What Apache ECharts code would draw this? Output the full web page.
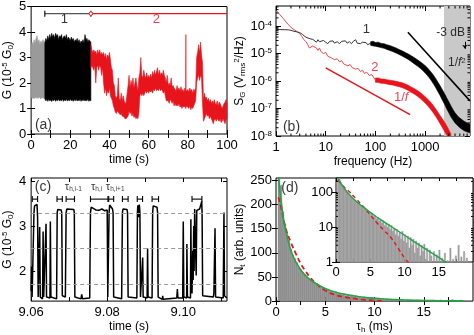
<!DOCTYPE html>
<html>
<head>
<meta charset="utf-8">
<script src="https://cdn.jsdelivr.net/npm/echarts@6/dist/echarts.min.js"></script>
<style>
html,body{margin:0;padding:0;background:#fff}
#c{width:474px;height:335px}
</style>
</head>
<body>
<div id="c"></div>
<script>
// ===== (a) conductance vs time: envelope samples [time (s), low, high] in 1e-5 G0 =====
const traceGrey = [
  [0,1.45,3.45],[0.5,1.4,3.6],[1,1.42,3.5],[1.5,1.38,3.7],[2,1.44,3.55],[2.5,1.4,3.75],
  [3,1.43,3.85],[3.5,1.39,3.6],[4,1.45,3.7],[4.5,1.41,3.5],[5,1.38,3.65],[5.5,1.44,3.55],
  [6,1.4,3.7],[6.5,1.42,3.6],[7,1.4,3.55]
];
const traceBlack = [
  [7,1.38,3.6],[7.5,1.3,3.75],[8,1.35,3.65],[8.5,1.28,3.85],[9,1.36,3.7],[9.5,1.3,3.9],
  [10,1.33,3.75],[10.5,1.27,3.95],[11,1.35,3.8],[11.5,1.3,3.9],[12,1.36,3.75],[12.5,1.28,3.95],
  [13,1.34,3.85],[13.5,1.3,3.9],[14,1.37,3.7],[14.5,1.29,3.85],[15,1.33,3.8],[15.5,1.3,3.9],
  [16,1.36,3.7],[16.5,1.28,3.8],[17,1.34,3.85],[17.5,1.3,3.75],[18,1.36,3.9],[18.5,1.29,3.7],
  [19,1.33,3.8],[19.5,1.3,3.75],[20,1.37,3.65],[20.5,1.3,3.8],[21,1.34,3.7],[21.5,1.28,3.75],
  [22,1.35,3.6],[22.5,1.3,3.7],[23,1.36,3.65],[23.5,1.29,3.75],[24,1.33,3.6],[24.5,1.3,3.7],
  [25,1.36,3.55],[25.5,1.28,3.65],[26,1.34,3.6],[26.5,1.3,3.7],[27,1.35,3.55],[27.5,1.29,3.9],
  [28,1.33,3.7],[28.5,1.3,3.75],[29,1.36,3.6],[29.5,1.28,3.7],[30,1.33,3.65],[30.5,1.3,3.6]
];
const traceRed = [
  [30.5,2.6,3.5],[31,2.7,3.3],[31.5,2.6,3.2],[32,2.5,3.3],[32.5,2.7,3.2],[33,2.0,3.25],
  [33.5,2.6,3.1],[34,2.7,3.3],[34.5,2.5,3.15],[35,2.7,3.3],[35.5,2.6,3.1],[36,2.3,3.2],
  [36.5,2.6,3.1],[37,2.0,3.2],[37.5,1.6,3.0],[38,1.8,3.15],[38.5,1.5,2.9],[39,1.7,3.1],
  [39.5,1.6,3.0],[40,1.8,3.2],[40.5,1.5,2.9],[41,1.4,2.6],[41.5,1.3,2.5],[42,1.1,2.0],
  [42.5,1.0,1.9],[43,0.85,1.5],[43.5,0.8,1.4],[44,0.9,1.5],[44.5,0.85,2.2],[45,0.8,1.4],
  [45.5,0.75,1.3],[46,0.8,1.6],[46.5,0.7,1.3],[47,0.7,1.5],[47.5,0.65,1.3],[48,0.6,1.2],
  [48.5,0.6,1.25],[49,0.65,1.6],[49.5,0.7,1.9],[50,0.9,2.3],[50.5,0.8,1.8],[51,0.85,2.1],
  [51.5,0.7,1.9],[52,0.8,2.2],[52.5,0.65,1.8],[53,0.7,2.0],[53.5,0.6,2.2],[54,0.65,1.9],
  [54.5,0.6,1.7],[55,0.8,2.2],[55.5,1.5,2.4],[56,1.6,3.0],[56.5,1.5,2.3],[57,1.6,2.2],
  [57.5,1.5,2.5],[58,1.6,2.3],[58.5,1.7,2.2],[59,1.6,2.4],[59.5,1.7,2.2],[60,1.6,2.3],
  [60.5,1.7,2.2],[61,1.65,2.35],[61.5,1.7,2.2],[62,1.6,2.45],[62.5,1.75,2.3],[63,1.7,2.5],
  [63.5,1.8,2.3],[64,1.7,2.45],[64.5,1.75,2.6],[65,1.7,2.3],[65.5,1.8,2.5],[66,1.7,2.3],
  [66.5,1.75,2.4],[67,1.7,2.3],[67.5,1.6,2.5],[68,1.7,2.3],[68.5,1.5,2.2],[69,1.3,2.0],
  [69.5,1.3,2.3],[70,1.3,1.9],[70.5,1.2,2.0],[71,1.35,1.9],[71.5,1.3,2.2],[72,1.2,1.85],
  [72.5,1.3,1.9],[73,1.1,1.8],[73.5,1.2,1.75],[74,1.1,1.7],[74.5,1.15,1.9],[75,1.1,1.75],
  [75.5,1.2,1.8],[76,1.05,1.7],[76.5,1.1,1.85],[77,1.0,1.7],[77.5,1.1,1.75],[78,1.05,1.65],
  [78.5,1.1,1.8],[78.9,1.0,1.7],[79,1.0,3.9],[79.1,1.05,1.7],[79.5,1.1,1.7],[80,1.05,1.75],
  [80.5,1.0,1.65],[81,1.1,1.8],[81.5,0.95,1.7],[82,1.05,1.75],[82.5,1.0,1.6],[83,1.1,1.75],
  [83.5,1.2,1.7],[84,1.3,1.8],[84.5,2.0,3.0],[85,2.2,3.2],[85.5,2.3,3.5],[86,2.1,3.2],
  [86.5,2.3,3.6],[87,2.2,3.1],[87.5,1.2,2.8],[88,0.5,1.3],[88.5,0.6,1.6],[89,0.7,1.4],
  [89.5,0.8,1.45],[90,0.7,1.3],[90.5,0.75,1.4],[91,0.6,1.25],[91.5,0.7,1.35],[92,0.6,1.2],
  [92.5,0.5,1.3],[93,0.4,1.2],[93.5,0.55,1.35],[94,0.6,1.2],[94.5,0.5,1.15],[95,0.6,1.3],
  [95.5,0.55,1.1],[96,0.5,1.25],[96.5,0.6,1.2],[97,0.45,1.1],[97.5,0.5,1.0],[98,0.6,1.1],
  [98.5,0.5,1.2],[99,0.4,1.25],[99.5,0.55,1.35],[100,0.6,1.2]
];
const segment1 = [7, 30.5];
const segment2 = [30.5, 100];
const ticksA_x = [0, 10, 20, 30, 40, 50, 60, 70, 80, 90, 100];
const labelsA_x = [0, 20, 40, 60, 80, 100];
const ticksA_y = [0, 1, 2, 3, 4, 5];

// ===== (b) noise power spectra [frequency (Hz), S_G] =====
const spec1Line = [
  [1,7.5e-5],[1.2,7.5e-5],[1.5,7.4e-5],[1.8,7.3e-5],[2,7e-5],[2.3,6.5e-5],[2.6,6.2e-5],
  [3,5.8e-5],[3.4,5e-5],[3.8,4.2e-5],[4.2,3.8e-5],[4.6,3.6e-5],[5,3.4e-5],[5.5,3.3e-5],
  [6,2.9e-5],[6.5,2.6e-5],[7,3.2e-5],[7.5,2.7e-5],[8,2.5e-5],[9,3e-5],[10,2.6e-5],
  [11,2.3e-5],[12,2.8e-5],[13,2.5e-5],[14,2.9e-5],[15,2.4e-5],[17,2.7e-5],[19,2.3e-5],
  [21,2.8e-5],[23,2.5e-5],[25,2.9e-5],[27,2.4e-5],[30,2.7e-5],[33,2.3e-5],[36,2.8e-5],
  [40,3.2e-5],[43,2.4e-5],[46,2.7e-5],[50,2.3e-5],[55,2.6e-5],[60,2.2e-5],[65,2.5e-5],
  [70,2.1e-5],[80,2.4e-5]
];
const spec1Band = [
  [80,2.0e-5,2.7e-5],[90,1.9e-5,2.8e-5],[100,1.85e-5,2.55e-5],[115,1.75e-5,2.6e-5],
  [130,1.65e-5,2.35e-5],[150,1.55e-5,2.3e-5],[170,1.42e-5,2.1e-5],[195,1.3e-5,1.95e-5],
  [220,1.2e-5,1.8e-5],[260,1.05e-5,1.6e-5],[300,9.3e-6,1.4e-5],[350,8e-6,1.25e-5],
  [400,7e-6,1.1e-5],[450,6.2e-6,9.8e-6],[500,5.5e-6,8.8e-6],[600,4.3e-6,7.2e-6],
  [700,3.5e-6,6e-6],[800,2.9e-6,5e-6],[900,2.4e-6,4.3e-6],[1050,1.8e-6,3.4e-6],
  [1200,1.35e-6,2.6e-6],[1350,1.0e-6,2.0e-6],[1500,7.5e-7,1.55e-6],[1650,5.6e-7,1.2e-6],
  [1800,4.2e-7,9.2e-7],[2000,3e-7,6.8e-7],[2200,2.1e-7,5e-7],[2450,1.45e-7,3.5e-7],
  [2700,1e-7,2.5e-7],[3000,7e-8,1.75e-7],[3300,5e-8,1.25e-7],[3650,3.8e-8,9e-8],
  [4000,3e-8,7e-8],[4500,2.4e-8,5.4e-8],[5000,2e-8,4.5e-8],[6000,1.6e-8,3.5e-8],
  [7000,1.4e-8,3e-8],[8000,1.3e-8,2.7e-8]
];
const spec2Line = [
  [1,3.8e-4],[1.2,2.6e-4],[1.4,1.9e-4],[1.6,1.4e-4],[1.8,1.1e-4],[2,9e-5],[2.3,7.5e-5],
  [2.6,6.5e-5],[3,5.3e-5],[3.3,4.2e-5],[3.6,3.3e-5],[4,2.7e-5],[4.3,2.2e-5],[4.7,1.6e-5],
  [5,1.5e-5],[5.5,1.9e-5],[6,2.2e-5],[6.5,1.6e-5],[7,1.3e-5],[7.5,1.6e-5],[8,1.2e-5],
  [9,1e-5],[10,1.1e-5],[11,8e-6],[12,9e-6],[13,7e-6],[14,7.5e-6],[15,6e-6],[17,6.5e-6],
  [19,5e-6],[21,5.5e-6],[23,4.2e-6],[25,4.6e-6],[28,3.6e-6],[31,4e-6],[34,3.1e-6],
  [37,3.4e-6],[40,2.7e-6],[45,2.9e-6],[50,2.2e-6],[55,2.5e-6],[60,1.9e-6],[67,2.1e-6],
  [75,1.6e-6],[85,1.7e-6],[100,1.1e-6]
];
const spec2Band = [
  [100,9e-7,1.3e-6],[115,8.8e-7,1.3e-6],[130,8.3e-7,1.2e-6],[150,8.2e-7,1.18e-6],
  [170,7.8e-7,1.12e-6],[195,7.4e-7,1.08e-6],[220,7.2e-7,1.04e-6],[260,6.6e-7,9.8e-7],
  [300,6.2e-7,9.2e-7],[350,5.7e-7,8.6e-7],[400,5.1e-7,7.8e-7],[450,4.6e-7,7.2e-7],
  [500,4.1e-7,6.4e-7],[600,3.4e-7,5.4e-7],[700,2.8e-7,4.5e-7],[800,2.3e-7,3.8e-7],
  [900,1.9e-7,3.2e-7],[1050,1.45e-7,2.5e-7],[1200,1.1e-7,1.95e-7],[1350,8.5e-8,1.55e-7],
  [1500,6.5e-8,1.2e-7],[1650,5e-8,9.5e-8],[1800,3.9e-8,7.5e-8],[2000,2.8e-8,5.6e-8],
  [2200,2.1e-8,4.3e-8],[2450,1.5e-8,3.2e-8],[2700,1.1e-8,2.4e-8],[3000,8e-9,1.7e-8],
  [3300,6e-9,1.2e-8]
];
const slopeOneOverF = [[10,3e-6],[500,6e-8]];
const slopeOneOverF2 = [[450,6e-5],[8000,1.9e-7]];
const plateauLevels = [2.8e-5, 1.4e-5];
const cutoffRange = [2400, 8000];
const ticksB_x = [1, 10, 100, 1000];
const ticksB_y = [1e-8, 1e-7, 1e-6, 1e-5, 1e-4];
const minorB_x = [2,3,4,5,6,7,8,9,20,30,40,50,60,70,80,90,200,300,400,500,600,700,800,900,2000,3000,4000,5000,6000,7000];
const minorB_y = [2e-8,3e-8,4e-8,5e-8,6e-8,7e-8,8e-8,9e-8,2e-7,3e-7,4e-7,5e-7,6e-7,7e-7,8e-7,9e-7,
  2e-6,3e-6,4e-6,5e-6,6e-6,7e-6,8e-6,9e-6,2e-5,3e-5,4e-5,5e-5,6e-5,7e-5,8e-5,9e-5,2e-4,3e-4,4e-4,5e-4];

// ===== (c) telegraph switching: time after 9.06 s (ms) and conductance =====
const t0C = 9.06;
const msC = [0,0.1,0.25,0.6,0.75,0.9,1.3,1.55,1.7,1.85,2.1,2.25,2.4,3.0,3.15,3.3,3.8,3.92,4.05,4.95,5.05,5.2,
  6.7,6.85,7.0,7.9,8.05,8.2,9.0,9.2,9.4,11.2,11.35,11.5,13.1,13.3,13.5,15.4,15.6,15.8,16.3,17,17.8,18.6,19.4,20.0,
  20.15,20.35,20.5,20.65,21.4,21.55,21.7,23.8,24.0,24.15,25.2,25.35,25.5,27.8,27.95,28.05,28.3,28.45,28.6,28.75,
  29.2,29.33,29.45,30.5,30.62,30.75,31.8,31.95,32.1,33.1,33.25,33.4,34.5,34.6,34.7,38.3,38.45,38.6,39.85,40.0,40.15,
  40.9,40.95,41.1,41.9,42.0,42.12,42.3,42.5,42.6,42.75,42.85,43.0,43.2,43.4,43.55,43.7,44.3,44.7,44.85,44.95,45.1,
  47.9,48.05,48.35,48.5,50.5,50.7,50.85,51.45];
const gC = [1.55,2.1,1.42,1.4,3.3,3.45,3.42,3.48,3.2,1.42,1.4,2.98,1.42,1.38,2.88,1.42,1.4,3.05,1.42,1.4,3.1,1.42,
  1.38,3.3,3.37,3.36,3.3,1.45,1.42,3.3,3.38,3.37,3.3,1.42,1.38,1.48,1.38,1.4,3.3,3.42,3.38,3.36,3.35,3.38,3.34,3.36,
  1.42,1.42,3.3,3.47,3.38,3.3,1.42,1.38,3.3,3.38,3.37,3.3,1.42,1.4,3.3,3.46,3.2,3.48,3.3,1.42,
  1.4,2.3,1.42,1.4,2.5,1.42,1.4,3.3,3.45,3.42,3.3,1.42,1.37,1.45,1.37,1.4,1.6,1.4,1.4,3.1,1.42,
  1.4,2.6,1.42,1.4,3.15,1.7,1.5,2.45,1.8,3.0,2.0,3.38,3.35,1.9,3.35,3.38,3.38,3.5,3.55,3.3,1.45,
  1.42,1.5,2.95,1.42,1.4,3.3,1.45,1.4];
const levelsC = [1.71, 2.5, 3.29];
const dwellSpans = [[0.3,1.7],[6.8,8.2],[9.2,11.4],[15.6,20.2],[20.4,21.7],[24.0,25.5],[27.9,29.3],[31.8,33.5],[42.3,44.9]];
const ticksC_x = [9.06, 9.07, 9.08, 9.09, 9.10, 9.11];
const labelsC_x = [9.06, 9.08, 9.10];
const ticksC_y = [2, 3, 4];

// ===== (d) dwell-time histogram [tau_h (ms), counts] and fits =====
const histD = [
  [0.3,300],[0.5,240],[0.7,185],[0.9,160],[1.1,140],[1.3,125],[1.5,108],[1.7,95],[1.9,88],[2.1,80],
  [2.3,70],[2.5,66],[2.7,60],[2.9,55],[3.1,50],[3.3,47],[3.5,43],[3.7,40],[3.9,38],[4.1,34],
  [4.3,33],[4.5,29],[4.7,28],[4.9,26],[5.1,23],[5.3,24],[5.5,20],[5.7,21],[5.9,17],[6.1,19],
  [6.3,15],[6.5,16],[6.7,13],[6.9,15],[7.1,11],[7.3,13],[7.5,10],[7.7,12],[7.9,8.5],[8.1,11],
  [8.3,7.5],[8.5,9],[8.7,6],[8.9,8.5],[9.1,5.5],[9.3,7],[9.5,4.5],[9.7,7.5],[9.9,4],[10.1,6],
  [10.3,3.5],[10.5,5.5],[10.7,2.5],[10.9,5],[11.1,3],[11.3,4.5],[11.5,1.8],[11.7,4],[11.9,2.5],[12.1,3.5],
  [12.3,1.5],[12.5,3],[12.7,2],[12.9,3.2],[13.1,1.2],[13.3,2.5],[13.5,0.5],[13.7,2.2],[13.9,1.5],[14.1,0.6],
  [14.3,2],[14.5,0.5],[14.7,1.6],[14.9,0.8],[15.1,2.2],[15.3,0.5],[15.5,1.3],[15.7,0.5],[15.9,1.8],[16.1,0.5],
  [16.3,1.1],[16.5,0.6],[16.7,2.5],[16.9,0.5],[17.1,1.2],[17.3,0.5],[17.5,1.5],[17.7,0.5],[17.9,3],[18.1,0.5],
  [18.3,1.4],[18.5,0.5],[18.7,2],[18.9,0.5],[19.1,1.3]
];
const binWidthD = 0.2;
const fitStretched = [
  [0.25,260],[0.4,225],[0.6,195],[0.8,165],[1.0,145],[1.3,120],[1.6,100],[2.0,82],[2.5,65],[3.0,53],
  [3.5,44],[4.0,37],[5.0,26],[6.0,19],[7.0,14],[8.0,10.5],[9.0,7.8],[10,5.8],[11,4.3],[12,3.2],
  [13,2.4],[14,1.8],[15,1.35],[16,1.0],[17,0.75],[18,0.55],[19,0.4]
];
const fitExponential = [
  [0.25,215],[0.5,195],[1,150],[1.5,122],[2,99],[2.5,78],[3,62],[3.5,48],[4,38],[5,22],[6,13],
  [7,8],[8,5],[9,2.6],[10,1.3],[10.5,1.0],[11,0.8]
];
const ticksD_x = [0, 2.5, 5, 7.5, 10, 12.5, 15, 17.5];
const labelsD_x = [0, 5, 10, 15];
const ticksD_y = [0, 50, 100, 150, 200, 250];
const ticksInset_y = [1, 10, 100];
const minorInset_y = [2,3,4,5,6,7,8,9,20,30,40,50,60,70,80,90,200];

// ---------------------------------------------------------------------------
const FONT = '"Liberation Sans", Arial, Helvetica, sans-serif';
const RED = '#e8141c';
const RICH = {
  sup: {fontSize: 8, fontFamily: FONT, color: '#000', verticalAlign: 'top', lineHeight: 8},
  sub: {fontSize: 8, fontFamily: FONT, color: '#000', verticalAlign: 'bottom', lineHeight: 8},
  tau: {fontSize: 11, fontFamily: FONT, color: '#000'},
  tsub: {fontSize: 6.5, fontFamily: FONT, color: '#000', verticalAlign: 'bottom', lineHeight: 6},
  it: {fontStyle: 'italic', fontSize: 12, fontFamily: FONT, color: '#000'},
  itR: {fontStyle: 'italic', fontSize: 13, fontFamily: FONT, color: RED}
};

function merge(base, extra) {
  for (const k in extra) {
    const v = extra[k];
    if (v && typeof v === 'object' && !Array.isArray(v) && base[k] && typeof base[k] === 'object') {
      base[k] = Object.assign({}, base[k], v);
    } else base[k] = v;
  }
  return base;
}
function axis(gridIndex, position, extra) {
  return merge({
    gridIndex, position, type: 'value',
    axisLine: {show: false}, splitLine: {show: false},
    axisTick: {show: true, inside: true, length: 4, lineStyle: {color: '#000', width: 1}},
    axisLabel: {show: false, color: '#000', fontSize: 13, fontFamily: FONT, margin: 5},
    nameTextStyle: {color: '#000', fontSize: 12, fontFamily: FONT, rich: RICH, lineHeight: 14}
  }, extra || {});
}
function logExp(v) { return Math.round(Math.log10(v)); }

// filled envelope drawn as one polygon through the axis scales
function bandSeries(xi, yi, pts, color, z) {
  return {
    type: 'custom', xAxisIndex: xi, yAxisIndex: yi, z: z || 2, silent: true, clip: true,
    data: pts, encode: {x: 0, y: [1, 2]},
    renderItem(params, api) {
      if (params.dataIndex !== 0) return null;
      const top = pts.map(p => api.coord([p[0], p[2]]));
      const bot = pts.map(p => api.coord([p[0], p[1]])).reverse();
      return {type: 'polygon', shape: {points: top.concat(bot)},
        style: {fill: color, stroke: color, lineWidth: 0.6}};
    }
  };
}
// histogram bars from bin centre and count
function histSeries(xi, yi, data, base, color, z) {
  return {
    type: 'custom', xAxisIndex: xi, yAxisIndex: yi, z: z || 2, silent: true, clip: true,
    data: data, encode: {x: 0, y: 1},
    renderItem(params, api) {
      const x = api.value(0), v = api.value(1);
      if (v <= base) return null;
      const p1 = api.coord([x - binWidthD / 2, v]);
      const p2 = api.coord([x + binWidthD / 2, base]);
      return {type: 'rect', shape: {x: p1[0], y: p1[1], width: p2[0] - p1[0], height: p2[1] - p1[1]},
        style: {fill: color, stroke: color, lineWidth: 0.4}};
    }
  };
}
// bracket markers with end caps
function bracketSeries(xi, yi, spans, level, lineColor, capColor, capLeft, capRight, z) {
  return {
    type: 'custom', xAxisIndex: xi, yAxisIndex: yi, z: z || 6, silent: true,
    data: spans.map(s => [s[0], s[1], level]), encode: {x: [0, 1], y: 2},
    renderItem(params, api) {
      const a = api.coord([api.value(0), api.value(2)]);
      const b = api.coord([api.value(1), api.value(2)]);
      const kids = [{type: 'line', shape: {x1: a[0], y1: a[1], x2: b[0], y2: b[1]},
        style: {stroke: lineColor, lineWidth: 1.1}}];
      const cap = (p, kind) => {
        if (kind === 'bar') kids.push({type: 'line', shape: {x1: p[0], y1: p[1] - 3, x2: p[0], y2: p[1] + 3},
          style: {stroke: capColor, lineWidth: 1.1}});
        else if (kind === 'circle') kids.push({type: 'circle', shape: {cx: p[0], cy: p[1], r: 1.8},
          style: {fill: '#fff', stroke: capColor, lineWidth: 1}});
      };
      cap(a, capLeft); cap(b, capRight);
      return {type: 'group', children: kids};
    }
  };
}
// short minor ticks on a log axis, drawn at both frame edges
function minorTickSeries(xi, yi, values, dir, lo, hi, len) {
  return {
    type: 'custom', xAxisIndex: xi, yAxisIndex: yi, z: 8, silent: true,
    data: values.map(v => [v]), encode: dir === 'x' ? {x: 0} : {y: 0},
    renderItem(params, api) {
      const v = api.value(0);
      const kids = [];
      if (dir === 'x') {
        const p = api.coord([v, lo]), q = api.coord([v, hi]);
        kids.push({type: 'line', shape: {x1: p[0], y1: p[1], x2: p[0], y2: p[1] - len}, style: {stroke: '#000', lineWidth: 1}});
        kids.push({type: 'line', shape: {x1: q[0], y1: q[1], x2: q[0], y2: q[1] + len}, style: {stroke: '#000', lineWidth: 1}});
      } else {
        const p = api.coord([lo, v]), q = api.coord([hi, v]);
        kids.push({type: 'line', shape: {x1: p[0], y1: p[1], x2: p[0] + len, y2: p[1]}, style: {stroke: '#000', lineWidth: 1}});
        kids.push({type: 'line', shape: {x1: q[0], y1: q[1], x2: q[0] - len, y2: q[1]}, style: {stroke: '#000', lineWidth: 1}});
      }
      return {type: 'group', children: kids};
    }
  };
}
// text annotations placed in data coordinates
function textSeries(xi, yi, items) {
  return {
    type: 'scatter', xAxisIndex: xi, yAxisIndex: yi, symbolSize: 0, silent: true, z: 12,
    data: items.map(it => ({value: [it[0], it[1]], label: Object.assign({formatter: it[2]}, it[3] || {})})),
    label: {show: true, position: 'inside', color: '#000', fontSize: 13, fontFamily: FONT, rich: RICH}
  };
}

const xmaxB = 8000, yminB = 1e-8, ymaxB = 5.4e-4;

const option = {
  backgroundColor: '#fff',
  animation: false,
  grid: [
    {left: 29, top: 6, width: 198, height: 128, show: true, borderColor: '#000', borderWidth: 1},
    {left: 276, top: 6, width: 194, height: 130, show: true, borderColor: '#000', borderWidth: 1},
    {left: 29, top: 178, width: 198, height: 127, show: true, borderColor: '#000', borderWidth: 1},
    {left: 276, top: 178, width: 197, height: 127, show: true, borderColor: '#000', borderWidth: 1},
    {left: 336, top: 178, width: 137, height: 84, show: true, borderColor: '#000', borderWidth: 1, backgroundColor: '#fff'}
  ],
  xAxis: [
    // (a)
    axis(0, 'bottom', {min: 0, max: 100, name: 'time (s)', nameLocation: 'middle', nameGap: 14,
      axisTick: {customValues: ticksA_x}, axisLabel: {show: true, customValues: labelsA_x, margin: 5}}),
    axis(0, 'top', {min: 0, max: 100, axisTick: {customValues: ticksA_x}}),
    // (b)
    axis(1, 'bottom', {type: 'log', logBase: 10, min: 1, max: xmaxB, name: 'frequency (Hz)', nameLocation: 'middle', nameGap: 14,
      axisTick: {customValues: ticksB_x, length: 5},
      axisLabel: {show: true, customValues: ticksB_x, formatter: v => String(Math.round(v))}}),
    axis(1, 'top', {type: 'log', logBase: 10, min: 1, max: xmaxB, axisTick: {customValues: ticksB_x, length: 5}}),
    // (c)
    axis(2, 'bottom', {min: 9.06, max: 9.1115, name: 'time (s)', nameLocation: 'middle', nameGap: 16,
      axisTick: {customValues: ticksC_x}, axisLabel: {show: true, customValues: labelsC_x, formatter: v => v.toFixed(2)}}),
    axis(2, 'top', {min: 9.06, max: 9.1115, axisTick: {customValues: ticksC_x}}),
    // (d)
    axis(3, 'bottom', {min: 0, max: 20, name: 'τ{sub|h} (ms)', nameLocation: 'middle', nameGap: 16,
      axisTick: {customValues: ticksD_x}, axisLabel: {show: true, customValues: labelsD_x}}),
    axis(3, 'top', {min: 0, max: 20, axisTick: {customValues: ticksD_x}}),
    // (d) inset
    axis(4, 'bottom', {min: 0, max: 20, axisTick: {customValues: ticksD_x, length: 3},
      axisLabel: {show: true, customValues: labelsD_x, margin: 4}}),
    axis(4, 'top', {min: 0, max: 20, axisTick: {customValues: ticksD_x, length: 3}})
  ],
  yAxis: [
    axis(0, 'left', {min: 0, max: 5, name: 'G (10{sup|-5} G{sub|0})', nameLocation: 'middle', nameGap: 16,
      axisTick: {customValues: ticksA_y}, axisLabel: {show: true, customValues: ticksA_y}}),
    axis(0, 'right', {min: 0, max: 5, axisTick: {customValues: ticksA_y}}),
    axis(1, 'left', {type: 'log', logBase: 10, min: yminB, max: ymaxB,
      name: 'S{sub|G} (V{sub|rms}{sup|2}/Hz)', nameLocation: 'middle', nameGap: 27,
      axisTick: {customValues: ticksB_y, length: 5},
      axisLabel: {show: true, customValues: ticksB_y, margin: 4, formatter: v => '10{sup|' + logExp(v) + '}', rich: RICH}}),
    axis(1, 'right', {type: 'log', logBase: 10, min: yminB, max: ymaxB, axisTick: {customValues: ticksB_y, length: 5}}),
    axis(2, 'left', {min: 1.33, max: 4.07, name: 'G (10{sup|-5} G{sub|0})', nameLocation: 'middle', nameGap: 16,
      axisTick: {customValues: ticksC_y}, axisLabel: {show: true, customValues: ticksC_y}}),
    axis(2, 'right', {min: 1.33, max: 4.07, axisTick: {customValues: ticksC_y}}),
    axis(3, 'left', {min: 0, max: 255, name: 'N{sub|t} (arb. units)', nameLocation: 'middle', nameGap: 28,
      axisTick: {customValues: ticksD_y}, axisLabel: {show: true, customValues: ticksD_y, margin: 4}}),
    axis(3, 'right', {min: 0, max: 255, axisTick: {customValues: ticksD_y}}),
    axis(4, 'left', {type: 'log', logBase: 10, min: 1, max: 250, axisTick: {customValues: ticksInset_y},
      axisLabel: {show: true, customValues: ticksInset_y, margin: 3, formatter: v => String(Math.round(v))}}),
    axis(4, 'right', {type: 'log', logBase: 10, min: 1, max: 250, axisTick: {customValues: ticksInset_y}})
  ],
  series: [
    // ---- (a)
    bandSeries(0, 0, traceGrey, '#9a9a9a', 2),
    bandSeries(0, 0, traceBlack, '#000', 3),
    bandSeries(0, 0, traceRed, RED, 3),
    bracketSeries(0, 0, [segment1], 4.72, '#555', '#000', 'bar', 'bar'),
    bracketSeries(0, 0, [segment2], 4.72, RED, RED, 'circle', 'none'),
    textSeries(0, 0, [
      [17, 4.5, '1'],
      [64, 4.5, '2', {color: RED}],
      [6.3, 0.36, '(a)', {fontSize: 14}]
    ]),
    // ---- (b)
    {type: 'line', xAxisIndex: 2, yAxisIndex: 2, data: [], z: 1, silent: true,
      markArea: {silent: true, itemStyle: {color: '#c9c9c9'}, data: [[{xAxis: cutoffRange[0]}, {xAxis: cutoffRange[1]}]]}},
    {type: 'line', xAxisIndex: 2, yAxisIndex: 2, data: spec2Line, showSymbol: false, z: 3,
      lineStyle: {color: '#ee4a4a', width: 1}, silent: true},
    bandSeries(2, 2, spec2Band, RED, 3),
    {type: 'line', xAxisIndex: 2, yAxisIndex: 2, data: spec1Line, showSymbol: false, z: 4,
      lineStyle: {color: '#333', width: 1}, silent: true,
      markLine: {silent: true, symbol: 'none', animation: false,
        lineStyle: {color: '#000', type: 'solid', width: 1}, label: {show: false},
        data: plateauLevels.map(v => ({yAxis: v})).concat([[
          {coord: [6300, 2.7e-5], symbol: 'none'},
          {coord: [6300, 1.5e-5], symbol: 'arrow', symbolSize: 4}
        ]])}},
    bandSeries(2, 2, spec1Band, '#000', 4),
    {type: 'line', xAxisIndex: 2, yAxisIndex: 2, data: slopeOneOverF, showSymbol: false, z: 5,
      lineStyle: {color: RED, width: 1.5}, silent: true},
    {type: 'line', xAxisIndex: 2, yAxisIndex: 2, data: slopeOneOverF2, showSymbol: false, z: 5,
      lineStyle: {color: '#000', width: 1.5}, silent: true},
    minorTickSeries(2, 2, minorB_x, 'x', yminB, ymaxB, 2.5),
    minorTickSeries(2, 2, minorB_y, 'y', 1, xmaxB, 2.5),
    textSeries(2, 2, [
      [66, 7.3e-5, '1'],
      [98, 3.2e-6, '2', {color: RED}],
      [330, 2.5e-7, '1/{itR|f}', {color: RED}],
      [3250, 5.6e-5, '-3 dB', {fontSize: 12}],
      [4350, 4.8e-6, '1/{it|f}{sup|2}', {fontSize: 12}],
      [2.05, 2.1e-8, '(b)', {fontSize: 14}]
    ]),
    // ---- (c)
    {type: 'line', xAxisIndex: 4, yAxisIndex: 4, showSymbol: false, z: 4, silent: true,
      data: msC.map((m, i) => [t0C + m / 1000, gC[i]]),
      lineStyle: {color: '#000', width: 1.5},
      markLine: {silent: true, symbol: 'none', animation: false, label: {show: false},
        lineStyle: {color: '#9a9a9a', type: [4, 3], width: 1},
        data: levelsC.map(v => ({yAxis: v}))}},
    bracketSeries(4, 4, dwellSpans.map(s => [t0C + s[0] / 1000, t0C + s[1] / 1000]), 3.6, '#000', '#000', 'bar', 'bar'),
    textSeries(4, 4, [
      [9.0631, 3.86, '(c)', {fontSize: 14}],
      [9.0711, 3.86, '{tau|τ}{tsub|h,i-1}'],
      [9.0772, 3.86, '{tau|τ}{tsub|h,i}'],
      [9.0821, 3.86, '{tau|τ}{tsub|h,i+1}']
    ]),
    // ---- (d) main
    histSeries(6, 6, histD, 0, '#8f8f8f', 2),
    {type: 'line', xAxisIndex: 6, yAxisIndex: 6, data: fitExponential, showSymbol: false, smooth: true, z: 4, silent: true,
      lineStyle: {color: RED, width: 1.8, type: [5, 3]}},
    {type: 'line', xAxisIndex: 6, yAxisIndex: 6, data: fitStretched, showSymbol: false, smooth: true, z: 5, silent: true,
      lineStyle: {color: '#1fa64a', width: 1.6}},
    textSeries(6, 6, [[1.4, 233, '(d)', {fontSize: 14}]]),
    // ---- (d) inset
    histSeries(8, 8, histD, 1, '#9c9c9c', 3),
    {type: 'line', xAxisIndex: 8, yAxisIndex: 8, data: fitExponential, showSymbol: false, smooth: true, z: 4, silent: true,
      lineStyle: {color: RED, width: 1.4, type: [4, 3]}},
    {type: 'line', xAxisIndex: 8, yAxisIndex: 8, data: fitStretched, showSymbol: false, smooth: true, z: 5, silent: true,
      lineStyle: {color: '#1fa64a', width: 1.4}},
    minorTickSeries(8, 8, minorInset_y, 'y', 0, 20, 2)
  ]
};

const chart = echarts.init(document.getElementById('c'), null, {renderer: 'canvas'});
chart.setOption(option);
</script>
</body>
</html>
